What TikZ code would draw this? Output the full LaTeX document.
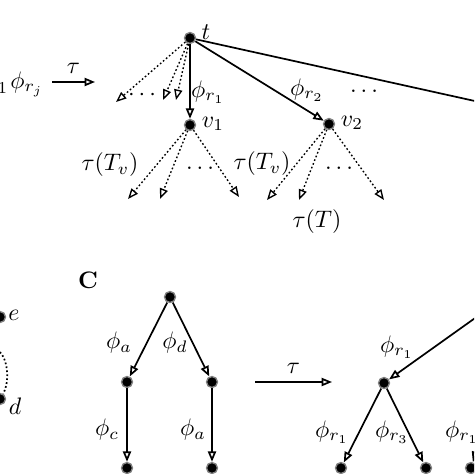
\documentclass[tikz,border=0pt]{standalone}
\usepackage{amsmath}
\usetikzlibrary{arrows.meta}

\tikzset{
  vert/.style={circle, fill, draw=gray, line width=0.6pt, inner sep=0pt, minimum size=4.6pt},
  edge/.style={-{Triangle[open,length=4.6pt,width=3.6pt]}, line width=0.75pt},
  dotedge/.style={edge, densely dotted, line width=0.6pt},
}

\begin{document}
\begin{tikzpicture}[x=0.44pt,y=-0.44pt, every node/.style={scale=1.05}]
\clip (0,0) rectangle (474,474);

% top part
\node at (3,88) {$_1$};
\node at (27,84) {$\phi_{r_j}$};
\coordinate (ta) at (52,82);
\coordinate (tb) at (95,82);
\draw[edge] (ta) -- (tb) node[midway, above] {$\tau$};

\node[vert] (t) at (190,38) {};
\node at (206,32) {$t$};
\node[vert] (v1) at (190,125) {};
\node at (213,124) {$v_1$};
\node[vert] (v2) at (329,124) {};
\node at (352,123) {$v_2$};
\coordinate (tr) at (520,111);

\coordinate (t1) at (116,102);
\coordinate (t2) at (163,100);
\coordinate (t3) at (176,100);
\draw[dotedge] (t) -- (t1);
\draw[dotedge] (t) -- (t2);
\draw[dotedge] (t) -- (t3);
\node at (144,95) {$\cdots$};

\draw[edge] (t) -- (v1);
\node at (208,92) {$\phi_{r_1}$};
\draw[edge] (t) -- (v2);
\node at (307,90) {$\phi_{r_2}$};
\node at (364,91) {$\ldots$};
\draw[line width=0.75pt] (t) -- (tr);

\coordinate (a1) at (128,199);
\coordinate (a2) at (160,199);
\coordinate (a3) at (239,197);
\draw[dotedge] (v1) -- (a1);
\draw[dotedge] (v1) -- (a2);
\draw[dotedge] (v1) -- (a3);
\node at (200,168) {$\ldots$};
\node at (110,165) {$\tau(T_v)$};

\coordinate (b1) at (267,200);
\coordinate (b2) at (299,200);
\coordinate (b3) at (384,200);
\draw[dotedge] (v2) -- (b1);
\draw[dotedge] (v2) -- (b2);
\draw[dotedge] (v2) -- (b3);
\node at (339,168) {$\ldots$};
\node at (262,164) {$\tau(T_v)$};
\node at (317,222) {$\tau(T)$};

% bottom left
\node[vert] (e) at (0,317) {};
\node at (14,315) {$e$};
\node[vert] (d) at (0,399) {};
\node at (15,406) {$d$};
\draw[densely dotted, line width=0.75pt] (0,352) .. controls (9,362) and (9,384) .. (d);

% C
\node at (88,280) {\bfseries C};
\node[vert] (croot) at (170,297) {};
\node[vert] (cl) at (127,382) {};
\node[vert] (cr) at (212,382) {};
\node[vert] (cll) at (127,468) {};
\node[vert] (crr) at (212,468) {};
\draw[edge] (croot) -- (cl);
\draw[edge] (croot) -- (cr);
\draw[edge] (cl) -- (cll);
\draw[edge] (cr) -- (crr);
\node at (119,343) {$\phi_a$};
\node at (175,343) {$\phi_d$};
\node at (107,430) {$\phi_c$};
\node at (193,430) {$\phi_a$};

\coordinate (ca) at (255,382);
\coordinate (cb) at (332,382);
\draw[edge] (ca) -- (cb) node[midway, above] {$\tau$};

\node[vert] (s) at (384,383) {};
\coordinate (sin) at (520,286);
\draw[edge] (sin) -- (s);
\node at (397,347) {$\phi_{r_1}$};
\node[vert] (s1) at (341,468) {};
\node[vert] (s2) at (426,468) {};
\node[vert] (s3) at (471,468) {};
\coordinate (s3in) at (492,400);
\draw[edge] (s) -- (s1);
\draw[edge] (s) -- (s2);
\draw[edge] (s3in) -- (s3);
\node at (332,432) {$\phi_{r_1}$};
\node at (392,432) {$\phi_{r_3}$};
\node at (462,432) {$\phi_{r_1}$};
\end{tikzpicture}
\end{document}
